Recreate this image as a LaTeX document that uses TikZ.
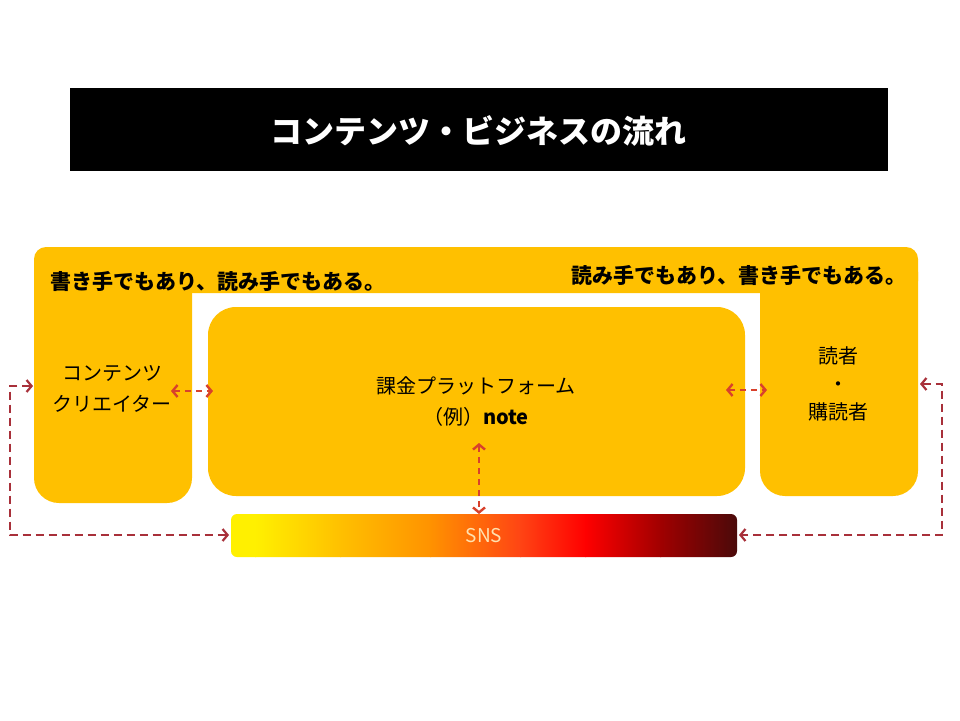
\documentclass[tikz,border=0pt]{standalone}
\usepackage{fontspec}
\setmainfont{Noto Sans CJK JP}
\usetikzlibrary{arrows.meta}
\definecolor{gold}{HTML}{FFC000}
\definecolor{arrowred}{HTML}{D8412C}
\definecolor{loopred}{HTML}{A8303A}
\definecolor{snstext}{HTML}{FFE2B0}
\definecolor{gA}{HTML}{FFF000}
\definecolor{gB}{HTML}{FFC000}
\definecolor{gC}{HTML}{FF9200}
\definecolor{gD}{HTML}{FF4414}
\definecolor{gE}{HTML}{FF0000}
\definecolor{gF}{HTML}{A00000}
\definecolor{gG}{HTML}{4A0A0A}
\tikzset{
  shapebox/.style={fill=gold, inner sep=0pt, outer sep=0pt, anchor=north west},
  bodytext/.style={font=\fontsize{20}{31}\selectfont, align=center, inner sep=0pt, text=black},
  headtext/.style={font=\bfseries\fontsize{21}{24}\selectfont, inner sep=0pt, text=black},
  sarr/.style={draw=arrowred, line width=2.4pt, dash pattern=on 6pt off 5pt,
    {Straight Barb[length=5pt,width=12pt]}-{Straight Barb[length=5pt,width=12pt]}},
  larr/.style={draw=loopred, line width=2.2pt, dash pattern=on 8pt off 5pt,
    {Straight Barb[length=5pt,width=12pt]}-{Straight Barb[length=5pt,width=12pt]}}
}
\begin{document}
\begin{tikzpicture}[x=1pt,y=-1pt]
\useasboundingbox (0,0) rectangle (960,720);
\fill[white] (0,0) rectangle (960,720);

% title
\node[fill=black, minimum width=818pt, minimum height=83pt, inner sep=0pt, anchor=north west] (titlebar) at (70,88) {};
\node[font=\bfseries\fontsize{32}{36}\selectfont, text=white, inner sep=0pt] (title) at (478,131) {コンテンツ・ビジネスの流れ};

% U shape
\node[shapebox, rounded corners=25pt, minimum width=158pt, minimum height=256pt] (cleg) at (34,247) {};
\node[shapebox, rounded corners=25pt, minimum width=158pt, minimum height=249pt] (rleg) at (760,247) {};
\node[shapebox, rounded corners=12pt, minimum width=884pt, minimum height=46pt] (topbar) at (34,247) {};

% middle box
\node[shapebox, rounded corners=28pt, minimum width=537pt, minimum height=189pt] (mid) at (208,307) {};

% SNS bar
\node[inner sep=0pt, outer sep=0pt, minimum width=506pt, minimum height=43pt, anchor=north west] (sns) at (231,514) {};
\begin{scope}
  \clip[rounded corners=6pt] (sns.north west) rectangle (sns.south east);
  \shade[left color=gA, right color=gA] (230,513) rectangle (256,558);
  \shade[left color=gA, right color=gB] (255,513) rectangle (341,558);
  \shade[left color=gB, right color=gC] (340,513) rectangle (431,558);
  \shade[left color=gC, right color=gD] (430,513) rectangle (521,558);
  \shade[left color=gD, right color=gE] (520,513) rectangle (586,558);
  \shade[left color=gE, right color=gF] (585,513) rectangle (661,558);
  \shade[left color=gF, right color=gG] (660,513) rectangle (738,558);
\end{scope}
\node[font=\fontsize{19}{22}\selectfont, text=snstext, inner sep=0pt] (snslabel) at (sns.center) {SNS};

% headings
\node[headtext, anchor=west] (lhead) at (50,282) {書き手でもあり、読み手でもある。};
\node[headtext, anchor=east] (rhead) at (907,276) {読み手でもあり、書き手でもある。};

% body texts
\node[bodytext] (ctext) at (112,389) {コンテンツ\\クリエイター};
\node[bodytext] (ptext) at (476,402) {課金プラットフォーム\\（例）\textbf{note}};
\node[bodytext, font=\fontsize{20}{28}\selectfont] (rtext) at (838,384) {読者\\・\\購読者};

% short arrows
\coordinate (c1) at (171,391);
\coordinate (c2) at (213,391);
\draw[sarr] (c1) -- (c2);
\coordinate (r1) at (726,390);
\coordinate (r2) at (767,390);
\draw[sarr] (r1) -- (r2);
\coordinate (v1) at (479,443);
\draw[sarr] (v1) -- (v1 |- sns.north);

% loops
\coordinate (lt) at (10,386);
\coordinate (lb) at (10,535);
\draw[larr] ([xshift=-1pt]cleg.west |- lt) -- (lt) -- (lb) -- ([xshift=-2pt]sns.west |- lb);
\coordinate (rt) at (942,384);
\coordinate (rb) at (942,535);
\draw[larr] ([xshift=2pt]rleg.east |- rt) -- (rt) -- (rb) -- ([xshift=2pt]sns.east |- rb);
\end{tikzpicture}
\end{document}
